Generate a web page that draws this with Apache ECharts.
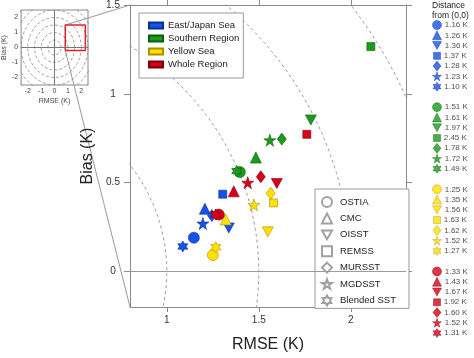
<!DOCTYPE html>
<html><head><meta charset="utf-8">
<script src="https://cdn.jsdelivr.net/npm/echarts@6/dist/echarts.min.js"></script>
<style>html,body{margin:0;padding:0;background:#fff}#c{width:474px;height:358px}</style>
</head><body><div id="c"></div>
<script>
// ---- data ----
const regions = ['East/Japan Sea', 'Southern Region', 'Yellow Sea', 'Whole Region'];
const products = ['OSTIA', 'CMC', 'OISST', 'REMSS', 'MURSST', 'MGDSST', 'Blended SST'];
const rmseEJS = [1.147, 1.207, 1.337, 1.304, 1.245, 1.196, 1.087];
const biasEJS = [0.190, 0.353, 0.245, 0.435, 0.315, 0.270, 0.141];
const rmseSR  = [1.397, 1.484, 1.783, 2.109, 1.625, 1.560, 1.380];
const biasSR  = [0.560, 0.641, 0.853, 1.266, 0.745, 0.739, 0.565];
const rmseYS  = [1.250, 1.320, 1.549, 1.580, 1.565, 1.473, 1.266];
const biasYS  = [0.092, 0.293, 0.223, 0.386, 0.440, 0.375, 0.136];
const rmseWR  = [1.283, 1.364, 1.598, 1.761, 1.511, 1.440, 1.266];
const biasWR  = [0.320, 0.451, 0.495, 0.772, 0.533, 0.500, 0.320];
const distEJS = ['1.16', '1.26', '1.36', '1.37', '1.28', '1.23', '1.10'];
const distSR  = ['1.51', '1.61', '1.97', '2.45', '1.78', '1.72', '1.49'];
const distYS  = ['1.25', '1.35', '1.56', '1.63', '1.62', '1.52', '1.27'];
const distWR  = ['1.33', '1.43', '1.67', '1.92', '1.60', '1.52', '1.31'];
const xTicks = [1, 1.5, 2];
const yTicks = [0, 0.5, 1, 1.5];
const xRange = [0.8, 2.3];
const yRange = [-0.2, 1.5];
const contourRadii = [1, 1.5, 2, 2.5];
const insetTicks = [-2, -1, 0, 1, 2];
const insetRange = [-2.5, 2.5];
const insetRadii = [0.5, 1, 1.5, 2, 2.5, 3, 3.5];

// ---- styles ----
const regionColors  = ['#1652e6', '#1c9a1c', '#ffe000', '#d80018'];
const regionBorders = ['#0a2f95', '#0b5e0b', '#a88f00', '#7a0010'];
const DOWN = 'path://M0,0 L2,0 L1,1.732 Z';
const STAR = 'path://M0,-1 L0.2245,-0.309 L0.9511,-0.309 L0.3633,0.118 L0.5878,0.809 L0,0.382 L-0.5878,0.809 L-0.3633,0.118 L-0.9511,-0.309 L-0.2245,-0.309 Z';
const HEX = 'path://M0,-1 L0.2887,-0.5 L0.866,-0.5 L0.577,0 L0.866,0.5 L0.2887,0.5 L0,1 L-0.2887,0.5 L-0.866,0.5 L-0.577,0 L-0.866,-0.5 L-0.2887,-0.5 Z';
const productSymbols = ['circle', 'triangle', DOWN, 'rect', 'diamond', STAR, HEX];
const productSizes = [11, 11, [11, 10], 8, [9, 12], 12, [10, 11]];
const colSizes = [9, 9, [9, 8], 7, [8, 10], 9, [8, 9]];

const regionData = [[rmseEJS, biasEJS], [rmseSR, biasSR], [rmseYS, biasYS], [rmseWR, biasWR]];
const regionDist = [distEJS, distSR, distYS, distWR];

function arc(r, a0, a1) {
  const pts = [];
  for (let a = a0; a <= a1; a += 1) {
    const t = a * Math.PI / 180;
    pts.push([r * Math.cos(t), r * Math.sin(t)]);
  }
  return pts;
}

const FONT = '"Liberation Sans", Arial, sans-serif';
const AX = '#8a8a8a';
const series = [];

// main contour circles
contourRadii.forEach((r, k) => {
  const s = {
    type: 'line', xAxisIndex: 0, yAxisIndex: 0, data: arc(r, -40, 110),
    showSymbol: false, silent: true, z: 1, clip: true,
    lineStyle: { color: '#9a9a9a', width: 1, type: [3, 3] }
  };
  if (k === 0) {
    s.markLine = {
      silent: true, symbol: 'none', label: { show: false },
      lineStyle: { color: '#9a9a9a', width: 1, type: 'solid' },
      data: [{ yAxis: 0 }]
    };
  }
  series.push(s);
});

// main scatter
regions.forEach((name, g) => {
  series.push({
    type: 'scatter', name, xAxisIndex: 0, yAxisIndex: 0, z: 5,
    itemStyle: { color: regionColors[g], borderColor: regionBorders[g], borderWidth: 0.6, opacity: 1 },
    data: products.map((p, i) => ({
      value: [regionData[g][0][i], regionData[g][1][i]],
      symbol: productSymbols[i], symbolSize: productSizes[i]
    }))
  });
});

// product legend carriers
products.forEach((p, i) => {
  series.push({
    type: 'scatter', name: p, xAxisIndex: 0, yAxisIndex: 0, data: [],
    symbol: productSymbols[i],
    itemStyle: { color: 'rgba(0,0,0,0)', borderColor: '#8a8a8a', borderWidth: 1 }
  });
});

// inset circles
insetRadii.forEach(r => {
  series.push({
    type: 'line', xAxisIndex: 2, yAxisIndex: 2, data: arc(r, 0, 360),
    showSymbol: false, silent: true, z: 1, clip: true,
    lineStyle: { color: '#8a8a8a', width: 0.8, type: [3, 2] }
  });
});
// inset cross + red box
series.push({
  type: 'line', xAxisIndex: 2, yAxisIndex: 2, silent: true, z: 3, showSymbol: false,
  data: [[xRange[0], yRange[0]], [xRange[1], yRange[0]], [xRange[1], yRange[1]], [xRange[0], yRange[1]], [xRange[0], yRange[0]]],
  lineStyle: { color: '#e0202a', width: 1.5 },
  markLine: {
    silent: true, symbol: 'none', label: { show: false },
    lineStyle: { color: '#777', width: 1, type: 'solid' },
    data: [{ xAxis: 0 }, { yAxis: 0 }]
  }
});

// distance column
const colData = [];
regions.forEach((name, g) => {
  products.forEach((p, i) => {
    colData.push({
      value: [0, g * 8 + i],
      symbol: productSymbols[i], symbolSize: colSizes[i],
      itemStyle: { color: regionColors[g], borderColor: regionBorders[g], borderWidth: 0.5 },
      label: { formatter: regionDist[g][i] + ' K' }
    });
  });
});
series.push({
  type: 'scatter', xAxisIndex: 3, yAxisIndex: 3, data: colData, silent: true,
  label: { show: true, position: 'right', distance: 3, fontSize: 8, color: '#222', fontFamily: FONT }
});

const option = {
  animation: false,
  backgroundColor: '#fff',
  textStyle: { fontFamily: FONT },
  title: {
    text: 'Distance\nfrom (0,0)', left: 432, top: 1, padding: 0,
    textStyle: { fontSize: 8.5, lineHeight: 9.5, fontWeight: 'normal', color: '#222', fontFamily: FONT }
  },
  grid: [
    { left: 130, top: 5, width: 276, height: 313 },
    { left: 15, top: 10, width: 73, height: 75, show: true, borderColor: '#8a8a8a', borderWidth: 1, backgroundColor: '#fff' },
    { left: 432, top: 19.9, width: 10, height: 318.3 }
  ],
  xAxis: [
    { type: 'value', gridIndex: 0, min: xRange[0], max: xRange[1], position: 'bottom',
      name: 'RMSE (K)', nameLocation: 'middle', nameGap: 30,
      nameTextStyle: { fontSize: 16, color: '#222' },
      axisLine: { show: true, onZero: false, lineStyle: { color: AX } },
      axisTick: { show: true, length: 5, customValues: xTicks, lineStyle: { color: AX } },
      axisLabel: { customValues: xTicks, fontSize: 10, color: '#333', margin: 8, formatter: v => String(v) },
      splitLine: { show: false } },
    { type: 'value', gridIndex: 0, min: xRange[0], max: xRange[1], position: 'top',
      axisLine: { show: true, onZero: false, lineStyle: { color: AX } },
      axisTick: { show: true, length: 5, customValues: xTicks, lineStyle: { color: AX } },
      axisLabel: { show: false }, splitLine: { show: false } },
    { type: 'value', gridIndex: 1, min: insetRange[0], max: insetRange[1],
      name: 'RMSE (K)', nameLocation: 'middle', nameGap: 13,
      nameTextStyle: { fontSize: 7, color: '#444' },
      axisLine: { show: false }, axisTick: { show: false },
      axisLabel: { customValues: insetTicks, fontSize: 7, color: '#444', margin: 3 },
      splitLine: { show: false } },
    { type: 'value', gridIndex: 2, min: -1, max: 1, show: false }
  ],
  yAxis: [
    { type: 'value', gridIndex: 0, min: yRange[0], max: yRange[1], position: 'left',
      name: 'Bias (K)', nameLocation: 'middle', nameGap: 33, nameRotate: 90,
      nameTextStyle: { fontSize: 16, color: '#222' },
      axisLine: { show: true, onZero: false, lineStyle: { color: AX } },
      axisTick: { show: true, length: 6, customValues: yTicks, lineStyle: { color: AX } },
      axisLabel: { customValues: yTicks, fontSize: 10, color: '#333', margin: 17, align: 'center', formatter: v => String(v) },
      splitLine: { show: false } },
    { type: 'value', gridIndex: 0, min: yRange[0], max: yRange[1], position: 'right',
      axisLine: { show: true, onZero: false, lineStyle: { color: AX } },
      axisTick: { show: true, length: 6, customValues: yTicks, lineStyle: { color: AX } },
      axisLabel: { show: false }, splitLine: { show: false } },
    { type: 'value', gridIndex: 1, min: insetRange[0], max: insetRange[1],
      name: 'Bias (K)', nameLocation: 'middle', nameGap: 10, nameRotate: 90,
      nameTextStyle: { fontSize: 7, color: '#444' },
      axisLine: { show: false }, axisTick: { show: false },
      axisLabel: { customValues: insetTicks, fontSize: 7, color: '#444', margin: 3 },
      splitLine: { show: false } },
    { type: 'value', gridIndex: 2, min: -0.5, max: 30.5, inverse: true, show: false }
  ],
  legend: [
    { data: regions, orient: 'vertical', left: 139, top: 13, selectedMode: false,
      icon: 'rect', itemWidth: 14, itemHeight: 6, itemGap: 0,
      padding: [6, 4, 7, 9], borderColor: '#9a9a9a', borderWidth: 1, backgroundColor: '#fff',
      textStyle: { fontSize: 9.5, lineHeight: 13, color: '#222' } },
    { data: products.map((p, i) => ({ name: p, icon: productSymbols[i] })),
      orient: 'vertical', left: 315, top: 189, selectedMode: false,
      itemWidth: 10, itemHeight: 10, itemGap: 4.4,
      padding: [7, 13, 2, 6], borderColor: '#9a9a9a', borderWidth: 1, backgroundColor: '#fff',
      textStyle: { fontSize: 9.5, lineHeight: 12, color: '#222', padding: [0, 0, 0, 3] } }
  ],
  series
};

const chart = echarts.init(document.getElementById('c'));
chart.setOption(option);

// zoom connector lines from inset box to the main plot corners
const a1 = chart.convertToPixel({ gridIndex: 1 }, [xRange[0], yRange[1]]);
const b1 = chart.convertToPixel({ gridIndex: 0 }, [xRange[0], yRange[1]]);
const a2 = chart.convertToPixel({ gridIndex: 1 }, [xRange[0], yRange[0]]);
const b2 = chart.convertToPixel({ gridIndex: 0 }, [xRange[0], yRange[0]]);
chart.setOption({
  graphic: [
    { type: 'line', z: 0, silent: true, shape: { x1: a1[0], y1: a1[1], x2: b1[0], y2: b1[1] }, style: { stroke: '#9a9a9a', lineWidth: 1 } },
    { type: 'line', z: 0, silent: true, shape: { x1: a2[0], y1: a2[1], x2: b2[0], y2: b2[1] }, style: { stroke: '#9a9a9a', lineWidth: 1 } }
  ]
});
</script>
</body></html>
